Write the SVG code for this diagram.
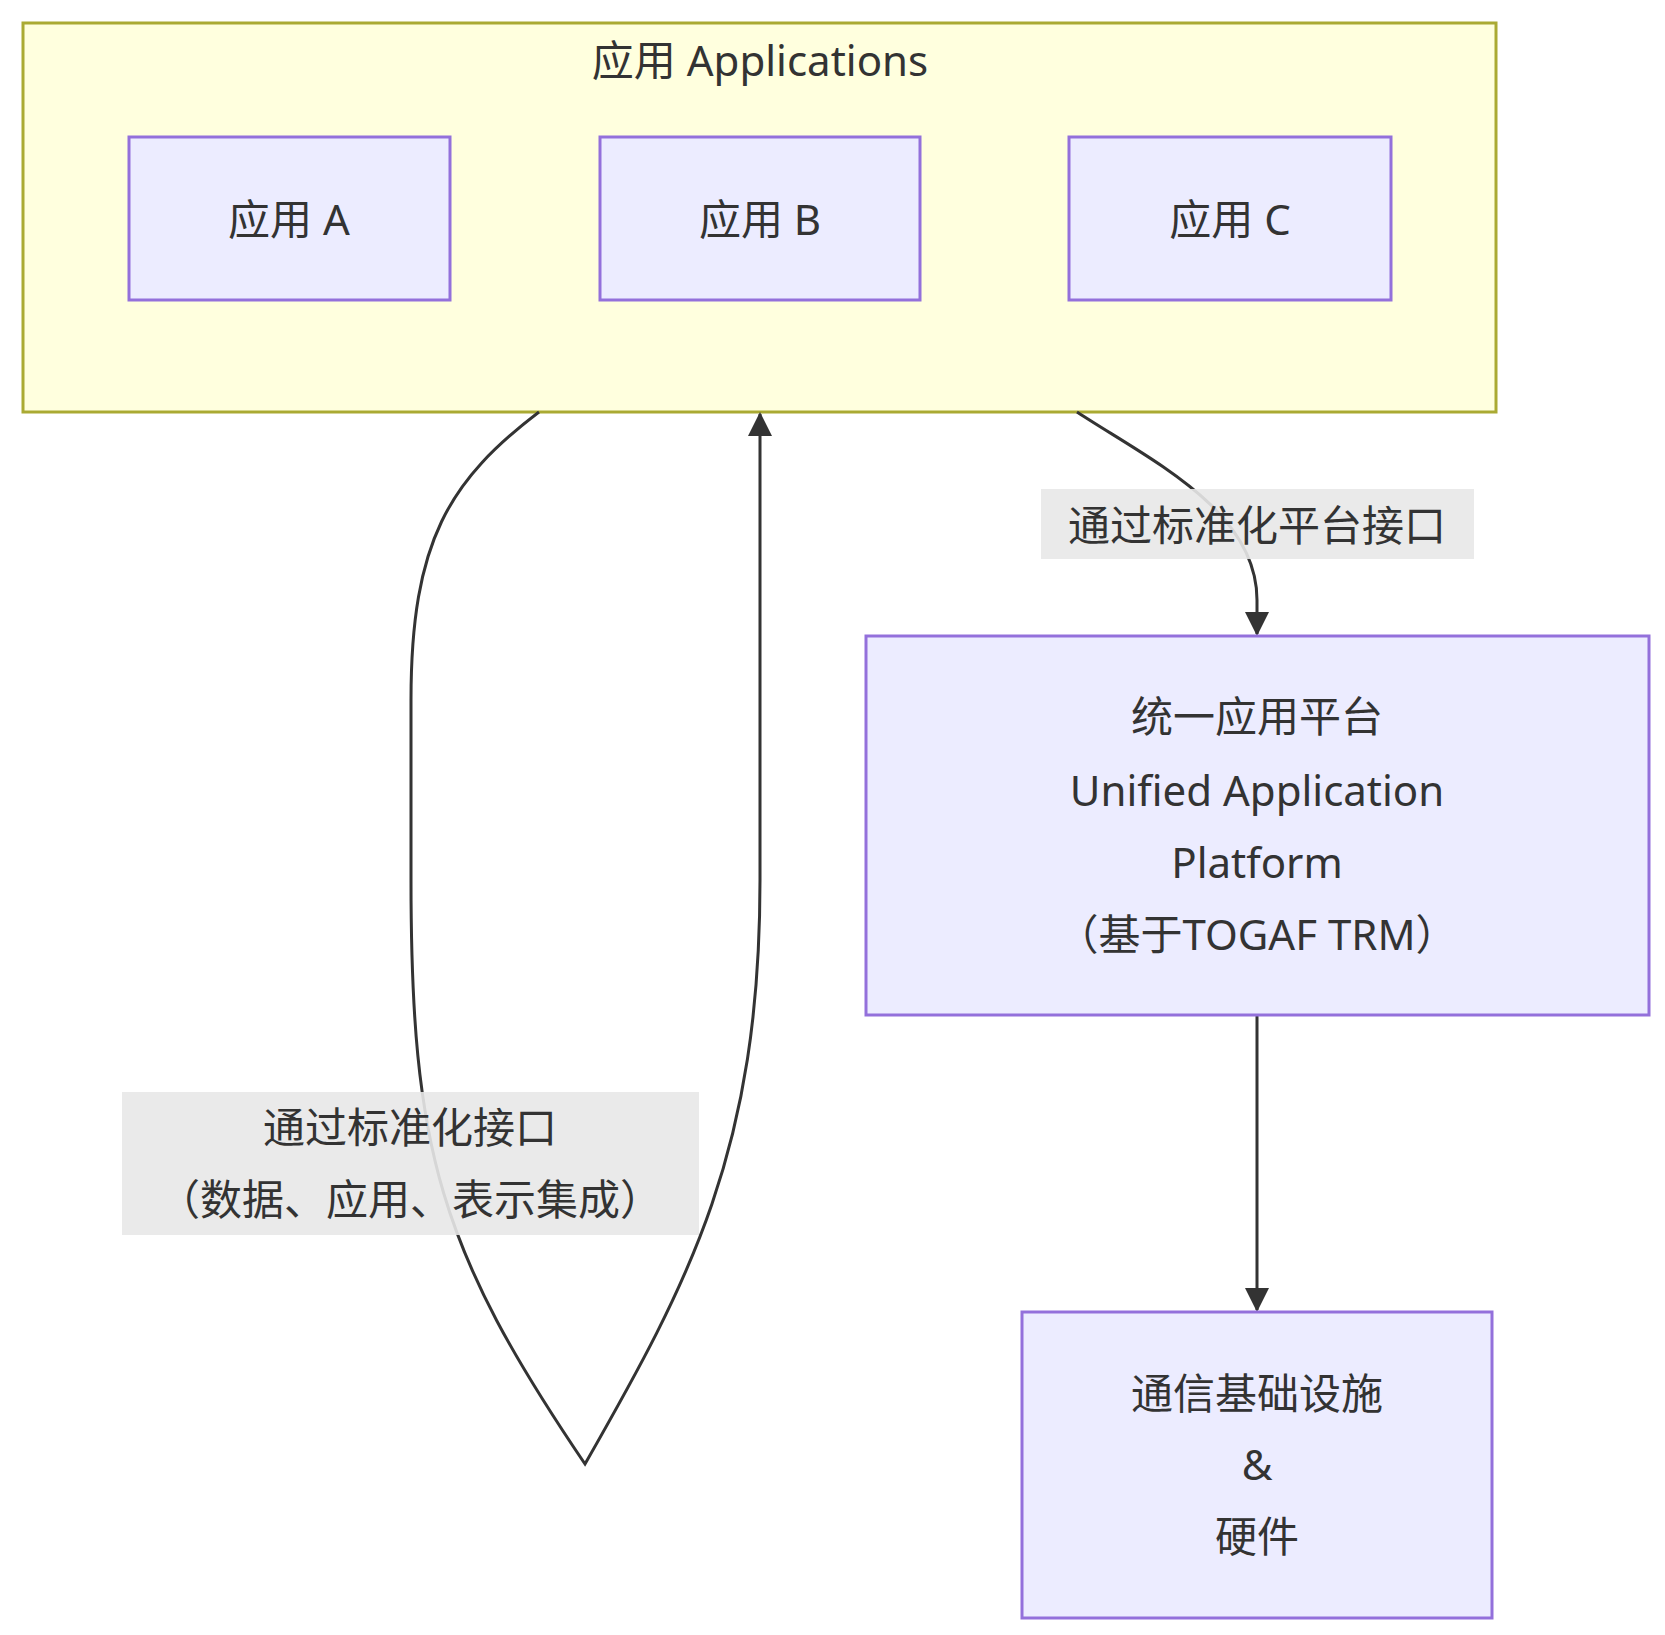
<svg xmlns="http://www.w3.org/2000/svg" width="1665" height="1635" viewBox="0 0 1665 1635">
<defs>
<style>
text{font-family:"Noto Sans","Noto Sans CJK SC",sans-serif;font-size:42px;fill:#333;text-anchor:middle;dominant-baseline:central}
.node{fill:#ECECFF;stroke:#9370DB;stroke-width:3}
.edge{fill:none;stroke:#333;stroke-width:3}
.lbl{fill:#e8e8e8;opacity:0.9}
</style>
<marker id="arr" viewBox="0 0 10 10" refX="9" refY="5" markerWidth="8" markerHeight="8" markerUnits="userSpaceOnUse" orient="auto" overflow="visible">
<path d="M0,0 L10,5 L0,10 z" fill="#333" transform="scale(2.4) translate(-5.5,-3) translate(5.5,3)"/>
</marker>
<marker id="ah" viewBox="0 0 24 24" refX="22" refY="12" markerWidth="24" markerHeight="24" markerUnits="userSpaceOnUse" orient="auto">
<path d="M0,0 L24,12 L0,24 z" fill="#333"/>
</marker>
</defs>
<rect width="1665" height="1635" fill="#fff"/>
<g id="apps">
<rect x="23" y="23" width="1473" height="389" fill="#ffffde" stroke="#aaaa33" stroke-width="3"/>
<text x="760" y="59">应用 Applications</text>
</g>
<g id="appA"><rect class="node" x="129" y="137" width="321" height="163"/><text x="289" y="218">应用 A</text></g>
<g id="appB"><rect class="node" x="600" y="137" width="320" height="163"/><text x="760" y="218">应用 B</text></g>
<g id="appC"><rect class="node" x="1069" y="137" width="322" height="163"/><text x="1230" y="218">应用 C</text></g>
<g id="edges">
<path class="edge" d="M539,412 C450,480 411,540 411,700 L411,880 C411,1150 440,1250 585,1464 C690,1280 760,1150 760,880 L760,414" marker-end="url(#ah)"/>
<path class="edge" d="M1077,412 C1150,460 1257,510 1257,600 L1257,634" marker-end="url(#ah)"/>
<path class="edge" d="M1257,1015 L1257,1310" marker-end="url(#ah)"/>
<rect class="lbl" x="1041" y="489" width="433" height="70"/>
<text x="1257" y="524">通过标准化平台接口</text>
<rect class="lbl" x="122" y="1092" width="577" height="143"/>
<text x="410" y="1126">通过标准化接口</text>
<text x="410" y="1198">（数据、应用、表示集成）</text>
</g>
<g id="platform"><rect class="node" x="866" y="636" width="783" height="379"/>
<text x="1257" y="715">统一应用平台</text>
<text x="1257" y="789">Unified Application</text>
<text x="1257" y="861">Platform</text>
<text x="1257" y="933">（基于TOGAF TRM）</text>
</g>
<g id="infra"><rect class="node" x="1022" y="1312" width="470" height="306"/>
<text x="1257" y="1392">通信基础设施</text>
<text x="1257" y="1463">&amp;</text>
<text x="1257" y="1535">硬件</text>
</g>
</svg>
